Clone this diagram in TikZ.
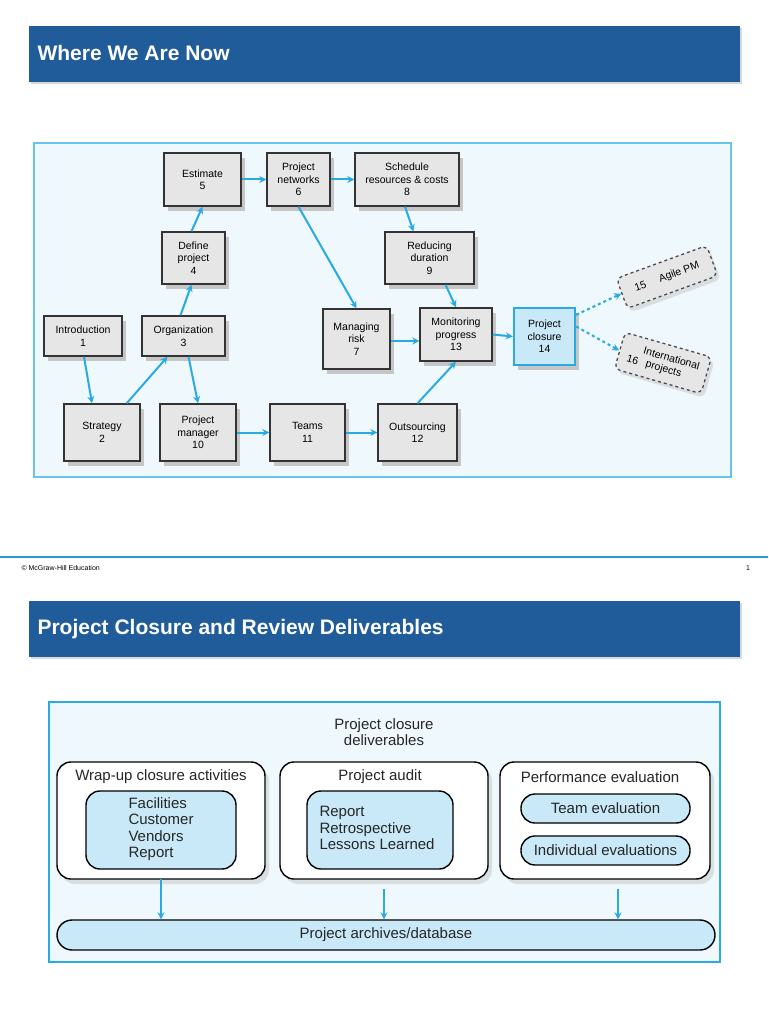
\documentclass[tikz,border=0pt]{standalone}
\usepackage{fontspec}
\setmainfont{Liberation Sans}
\usetikzlibrary{shadows,arrows.meta,calc}
\definecolor{hdr}{HTML}{1F5C99}
\definecolor{lb}{HTML}{29ABE2}
\definecolor{bg}{HTML}{EEF8FD}
\definecolor{cell}{HTML}{C9E9F8}
\definecolor{box}{HTML}{E6E6E6}
\begin{document}
\begin{tikzpicture}[x=1pt,y=-1pt,
  header/.style={fill=hdr,draw=none,drop shadow={shadow xshift=2pt,shadow yshift=-2pt,fill=gray!60}},
  htext/.style={anchor=west,text=white,font=\fontsize{21}{24}\selectfont\bfseries},
  pb/.style={draw=black!80,line width=1.4pt,fill=box,align=center,font=\fontsize{10.5}{12.5}\selectfont,inner sep=1pt,
    drop shadow={shadow xshift=4pt,shadow yshift=-5pt,fill=gray!45,opacity=1}},
  dbox/.style={draw=black!70,line width=1.3pt,dashed,fill=box,rounded corners=6pt,align=left,
    font=\fontsize{10.5}{12}\selectfont,drop shadow={shadow xshift=3pt,shadow yshift=-4pt,fill=gray!45}},
  ar/.style={draw=lb,line width=2pt,-{Stealth[length=7pt,width=7pt]}},
  dar/.style={ar,dashed},
  wb/.style={draw=black,line width=1.4pt,fill=white,rounded corners=14pt,
    drop shadow={shadow xshift=4pt,shadow yshift=-5pt,fill=gray!45}},
  cb/.style={draw=black,line width=1.4pt,fill=cell,rounded corners=14pt},
  btxt/.style={font=\fontsize{15}{16.5}\selectfont,text=black!85}
]
\useasboundingbox (0,0) rectangle (768,1024);
\fill[white] (0,0) rectangle (768,1024);
% headers
\path[header] (29,26) rectangle (740,82);
\node[htext] (h1) at (34,53) {Where We Are Now};
\path[header] (29,601) rectangle (740,657);
\node[htext] (h2) at (34,629) {Project Closure and Review Deliverables};
% divider
\draw[lb!80!hdr,line width=2pt] (0,557) -- (768,557);
\node[anchor=west,font=\fontsize{7}{8}\selectfont] (foot) at (18,568) {© McGraw-Hill Education};
\node[font=\fontsize{7}{8}\selectfont] (pg) at (748,568) {1};
% top diagram frame
\draw[lb!70,fill=bg,line width=1.2pt] (34,143) rectangle (731,477);
\node[pb,minimum width=77,minimum height=53] (n5) at (202.5,179.5) {Estimate\\5};
\node[pb,minimum width=63,minimum height=53] (n6) at (298.5,179.5) {Project\\networks\\6};
\node[pb,minimum width=104,minimum height=53] (n8) at (407,179.5) {Schedule\\resources \& costs\\8};
\node[pb,minimum width=63,minimum height=52] (n4) at (193.5,258) {Define\\project\\4};
\node[pb,minimum width=89,minimum height=52] (n9) at (429.5,258) {Reducing\\duration\\9};
\node[pb,minimum width=78,minimum height=40] (n1) at (83,336) {Introduction\\1};
\node[pb,minimum width=83,minimum height=40] (n3) at (183.5,336) {Organization\\3};
\node[pb,minimum width=67,minimum height=60] (n7) at (356.5,339) {Managing\\risk\\7};
\node[pb,minimum width=72,minimum height=53] (n13) at (456,334.5) {Monitoring\\progress\\13};
\node[pb,fill=cell,draw=lb,line width=2.4pt,minimum width=61,minimum height=57] (n14) at (544.5,336.5) {Project\\closure\\14};
\node[pb,minimum width=76,minimum height=57] (n2) at (102,432.5) {Strategy\\2};
\node[pb,minimum width=76,minimum height=57] (n10) at (198,432.5) {Project\\manager\\10};
\node[pb,minimum width=75,minimum height=57] (n11) at (307.5,432.5) {Teams\\11};
\node[pb,minimum width=79,minimum height=57] (n12) at (417.5,432.5) {Outsourcing\\12};
\node[dbox,rotate=20,minimum width=96,minimum height=32,inner sep=3pt] (n15) at (667,277) {15\hspace{14pt}Agile PM};
\node[dbox,rotate=-16,minimum width=90,minimum height=38,inner sep=2pt] (n16) at (663,363) {\hspace*{14pt}International\\16\hspace{8pt}projects};
% arrows
\draw[ar] ([xshift=1pt]n1.south) -- ([xshift=-10pt]n2.north);
\draw[ar] ([xshift=-14pt]n2.north east) -- ([xshift=-16pt]n3.south);
\draw[ar] ([xshift=-3pt]n3.north) -- ([xshift=-2pt]n4.south);
\draw[ar] ([xshift=-2pt]n4.north) -- ([xshift=0pt]n5.south);
\draw[ar] ([xshift=5pt]n3.south) -- ([xshift=0pt]n10.north);
\draw[ar] (n5.east) -- (n6.west);
\draw[ar] (n6.east) -- (n8.west);
\draw[ar] (n6.south) -- ([xshift=0pt]n7.north);
\draw[ar] ([xshift=-2pt]n8.south) -- ([xshift=-16pt]n9.north);
\draw[ar] ([xshift=16pt]n9.south) -- ([xshift=0pt]n13.north);
\draw[ar] ([yshift=-2pt]n7.east) -- ([yshift=-2pt]n7.east -| n13.west);
\draw[ar] (n12.north) -- (n13.south);
\draw[ar] (n10.east) -- (n11.west);
\draw[ar] (n11.east) -- (n12.west);
\draw[ar] (n13.east) -- (n14.west);
\draw[dar] ([yshift=-8pt]n14.north east) -- (n15.west);
\draw[dar] ([yshift=10pt]n14.east) -- (n16.west);
% bottom diagram
\draw[lb,fill=bg,line width=1.5pt] (49,702) rectangle (720,962);
\node[btxt,align=center] (title) at (384,732) {Project closure\\deliverables};
\path[wb] (57,762) rectangle (265,879);
\path[wb] (280,762) rectangle (488,879);
\path[wb] (500,762) rectangle (710,879);
\node[btxt] (t1) at (161,777) {Wrap-up closure activities};
\node[btxt] (t2) at (380,777) {Project audit};
\node[btxt] (t3) at (600,777) {Performance evaluation};
\draw[cb] (86,791) rectangle (236,869);
\node[btxt,align=left,anchor=north west] (c1) at (125,794) {Facilities\\Customer\\Vendors\\Report};
\draw[cb] (307,791) rectangle (453,869);
\node[btxt,align=left,anchor=north west] (c2) at (316,803) {Report\\Retrospective\\Lessons Learned};
\node[cb,rounded corners=14pt,minimum width=169,minimum height=29,btxt] (te) at (605.5,808.5) {Team evaluation};
\node[cb,rounded corners=14pt,minimum width=169,minimum height=29,btxt] (ie) at (605.5,850.5) {Individual evaluations};
\node[cb,rounded corners=15pt,minimum width=658,minimum height=30,btxt] (arch) at (386,935) {Project archives/database};
\coordinate (w1) at (161,879);
\coordinate (w2) at (384,889);
\coordinate (w3) at (618,889);
\draw[ar,line width=2.5pt] (w1) -- (arch.north -| w1);
\draw[ar,line width=2.5pt] (w2) -- (arch.north -| w2);
\draw[ar,line width=2.5pt] (w3) -- (arch.north -| w3);
\end{tikzpicture}
\end{document}
